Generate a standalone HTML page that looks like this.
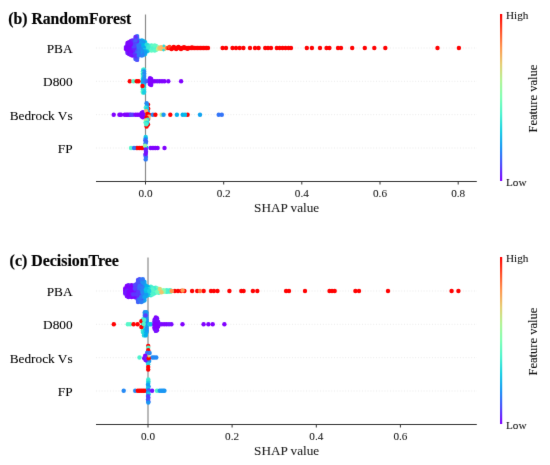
<!DOCTYPE html>
<html><head><meta charset="utf-8"><style>
html,body{margin:0;padding:0;background:#fff;width:550px;height:465px;overflow:hidden;}
svg{display:block;font-family:"Liberation Serif",serif;will-change:transform;}
text{stroke:#000;stroke-width:0.07px;}
</style></head><body>
<svg width="550" height="465" viewBox="0 0 550 465">
<defs><filter id="soft" color-interpolation-filters="sRGB" filterUnits="userSpaceOnUse" x="0" y="0" width="550" height="465"><feConvolveMatrix order="3" kernelMatrix="0.0052 0.0619 0.0052 0.0619 0.7316 0.0619 0.0052 0.0619 0.0052" divisor="1" edgeMode="duplicate" preserveAlpha="false"/></filter>
<linearGradient id="cb" x1="0" y1="1" x2="0" y2="0">
<stop offset="0.0" stop-color="#8000ff"/>
<stop offset="0.1" stop-color="#4c4ffc"/>
<stop offset="0.2" stop-color="#1996f3"/>
<stop offset="0.3" stop-color="#19cee3"/>
<stop offset="0.4" stop-color="#4df3ce"/>
<stop offset="0.5" stop-color="#80ffb4"/>
<stop offset="0.6" stop-color="#b2f396"/>
<stop offset="0.7" stop-color="#e5ce74"/>
<stop offset="0.8" stop-color="#ff964f"/>
<stop offset="0.9" stop-color="#ff4f28"/>
<stop offset="1.0" stop-color="#ff0000"/>
</linearGradient></defs>
<g filter="url(#soft)"><rect width="550" height="465" fill="#fff"/>
<line x1="96" y1="48.0" x2="477" y2="48.0" stroke="#e6e6e6" stroke-width="0.8" stroke-dasharray="1,1.8"/>
<line x1="96" y1="81.3" x2="477" y2="81.3" stroke="#e6e6e6" stroke-width="0.8" stroke-dasharray="1,1.8"/>
<line x1="96" y1="114.7" x2="477" y2="114.7" stroke="#e6e6e6" stroke-width="0.8" stroke-dasharray="1,1.8"/>
<line x1="96" y1="148.0" x2="477" y2="148.0" stroke="#e6e6e6" stroke-width="0.8" stroke-dasharray="1,1.8"/>
<line x1="145.5" y1="14.5" x2="145.5" y2="181.0" stroke="#8a8a8a" stroke-width="1.2"/>
<line x1="96" y1="291.0" x2="477" y2="291.0" stroke="#e6e6e6" stroke-width="0.8" stroke-dasharray="1,1.8"/>
<line x1="96" y1="324.3" x2="477" y2="324.3" stroke="#e6e6e6" stroke-width="0.8" stroke-dasharray="1,1.8"/>
<line x1="96" y1="357.7" x2="477" y2="357.7" stroke="#e6e6e6" stroke-width="0.8" stroke-dasharray="1,1.8"/>
<line x1="96" y1="391.0" x2="477" y2="391.0" stroke="#e6e6e6" stroke-width="0.8" stroke-dasharray="1,1.8"/>
<line x1="148.0" y1="257.5" x2="148.0" y2="424.0" stroke="#8a8a8a" stroke-width="1.2"/>
<g>
<circle cx="143.5" cy="49.7" r="2.2" fill="#02b6eb"/>
<circle cx="141.9" cy="48.9" r="2.2" fill="#1b94f3"/>
<circle cx="135.5" cy="38.6" r="2.2" fill="#445cfb"/>
<circle cx="137.1" cy="49.7" r="2.2" fill="#5345fd"/>
<circle cx="132.3" cy="42.1" r="2.2" fill="#7214ff"/>
<circle cx="149.9" cy="46.3" r="2.2" fill="#3ae8d6"/>
<circle cx="149.9" cy="49.7" r="2.2" fill="#3ae8d6"/>
<circle cx="133.9" cy="54.8" r="2.2" fill="#6924fe"/>
<circle cx="164.3" cy="48.9" r="2.2" fill="#ffb361"/>
<circle cx="141.9" cy="47.1" r="2.2" fill="#2c7df7"/>
<circle cx="138.7" cy="43.8" r="2.2" fill="#2e7af7"/>
<circle cx="132.3" cy="45.5" r="2.2" fill="#790aff"/>
<circle cx="143.5" cy="51.4" r="2.2" fill="#0ea5ef"/>
<circle cx="132.3" cy="54.0" r="2.2" fill="#7a08ff"/>
<circle cx="133.9" cy="51.4" r="2.2" fill="#5345fd"/>
<circle cx="149.9" cy="48.0" r="2.2" fill="#55f6ca"/>
<circle cx="156.3" cy="46.3" r="2.2" fill="#52f5cc"/>
<circle cx="146.7" cy="49.7" r="2.2" fill="#10c5e7"/>
<circle cx="145.1" cy="47.1" r="2.2" fill="#10c5e7"/>
<circle cx="146.7" cy="46.3" r="2.2" fill="#1cd1e2"/>
<circle cx="141.9" cy="43.8" r="2.2" fill="#2685f5"/>
<circle cx="135.5" cy="48.9" r="2.2" fill="#5443fd"/>
<circle cx="135.5" cy="43.8" r="2.2" fill="#5640fd"/>
<circle cx="137.1" cy="42.9" r="2.2" fill="#4c4ffc"/>
<circle cx="132.3" cy="55.6" r="2.2" fill="#8000ff"/>
<circle cx="161.1" cy="48.9" r="2.2" fill="#f0c56d"/>
<circle cx="130.7" cy="53.1" r="2.2" fill="#7118ff"/>
<circle cx="143.5" cy="48.0" r="2.2" fill="#03b1ed"/>
<circle cx="137.1" cy="59.9" r="2.2" fill="#5247fc"/>
<circle cx="148.3" cy="45.5" r="2.2" fill="#40ecd4"/>
<circle cx="137.1" cy="37.8" r="2.2" fill="#3b68f9"/>
<circle cx="138.7" cy="50.6" r="2.2" fill="#2d7cf7"/>
<circle cx="141.9" cy="45.5" r="2.2" fill="#1a95f3"/>
<circle cx="145.1" cy="48.9" r="2.2" fill="#1dd1e2"/>
<circle cx="137.1" cy="58.2" r="2.2" fill="#3a6af9"/>
<circle cx="132.3" cy="47.1" r="2.2" fill="#7511ff"/>
<circle cx="162.7" cy="48.0" r="2.2" fill="#f1c36c"/>
<circle cx="137.1" cy="56.5" r="2.2" fill="#5443fd"/>
<circle cx="129.1" cy="52.2" r="2.2" fill="#8000ff"/>
<circle cx="135.5" cy="42.1" r="2.2" fill="#504afc"/>
<circle cx="132.3" cy="43.8" r="2.2" fill="#8000ff"/>
<circle cx="146.7" cy="48.0" r="2.2" fill="#19cee3"/>
<circle cx="165.9" cy="48.0" r="2.2" fill="#f5bf68"/>
<circle cx="140.3" cy="46.3" r="2.2" fill="#179af2"/>
<circle cx="145.1" cy="43.8" r="2.2" fill="#06bbea"/>
<circle cx="135.5" cy="47.1" r="2.2" fill="#5f32fe"/>
<circle cx="125.9" cy="47.1" r="2.2" fill="#7019ff"/>
<circle cx="140.3" cy="41.2" r="2.2" fill="#3275f8"/>
<circle cx="129.1" cy="50.6" r="2.2" fill="#7a09ff"/>
<circle cx="151.5" cy="47.1" r="2.2" fill="#44eed2"/>
<circle cx="145.1" cy="42.1" r="2.2" fill="#0ec3e7"/>
<circle cx="129.1" cy="45.5" r="2.2" fill="#7e02ff"/>
<circle cx="135.5" cy="52.2" r="2.2" fill="#4e4cfc"/>
<circle cx="133.9" cy="41.2" r="2.2" fill="#6726fe"/>
<circle cx="156.3" cy="49.7" r="2.2" fill="#71febc"/>
<circle cx="130.7" cy="41.2" r="2.2" fill="#8000ff"/>
<circle cx="137.1" cy="48.0" r="2.2" fill="#4954fb"/>
<circle cx="143.5" cy="41.2" r="2.2" fill="#03b7eb"/>
<circle cx="137.1" cy="36.1" r="2.2" fill="#3571f8"/>
<circle cx="137.1" cy="39.5" r="2.2" fill="#5443fd"/>
<circle cx="138.7" cy="42.1" r="2.2" fill="#4d4efc"/>
<circle cx="138.7" cy="54.0" r="2.2" fill="#3078f7"/>
<circle cx="143.5" cy="42.9" r="2.2" fill="#218df4"/>
<circle cx="135.5" cy="37.0" r="2.2" fill="#632cfe"/>
<circle cx="127.5" cy="51.4" r="2.2" fill="#7314ff"/>
<circle cx="151.5" cy="45.5" r="2.2" fill="#52f5cc"/>
<circle cx="135.5" cy="50.6" r="2.2" fill="#5b38fd"/>
<circle cx="127.5" cy="44.6" r="2.2" fill="#7019ff"/>
<circle cx="156.3" cy="48.0" r="2.2" fill="#92fdaa"/>
<circle cx="132.3" cy="52.2" r="2.2" fill="#6b21fe"/>
<circle cx="130.7" cy="48.0" r="2.2" fill="#7f00ff"/>
<circle cx="133.9" cy="53.1" r="2.2" fill="#6628fe"/>
<circle cx="135.5" cy="45.5" r="2.2" fill="#4954fb"/>
<circle cx="125.9" cy="48.9" r="2.2" fill="#8000ff"/>
<circle cx="135.5" cy="59.1" r="2.2" fill="#445bfb"/>
<circle cx="141.9" cy="40.4" r="2.2" fill="#0aa9ee"/>
<circle cx="154.7" cy="48.9" r="2.2" fill="#56f7ca"/>
<circle cx="141.9" cy="52.2" r="2.2" fill="#11a0f0"/>
<circle cx="164.3" cy="47.1" r="2.2" fill="#f8bc67"/>
<circle cx="141.9" cy="42.1" r="2.2" fill="#1d91f3"/>
<circle cx="140.3" cy="49.7" r="2.2" fill="#3d66fa"/>
<circle cx="135.5" cy="57.4" r="2.2" fill="#5344fd"/>
<circle cx="127.5" cy="53.1" r="2.2" fill="#6a22fe"/>
<circle cx="132.3" cy="50.6" r="2.2" fill="#790bff"/>
<circle cx="132.3" cy="48.9" r="2.2" fill="#6f1aff"/>
<circle cx="145.1" cy="54.0" r="2.2" fill="#0ec3e7"/>
<circle cx="127.5" cy="49.7" r="2.2" fill="#8000ff"/>
<circle cx="130.7" cy="46.3" r="2.2" fill="#6924fe"/>
<circle cx="153.1" cy="46.3" r="2.2" fill="#6bfdbf"/>
<circle cx="135.5" cy="54.0" r="2.2" fill="#5443fd"/>
<circle cx="133.9" cy="44.6" r="2.2" fill="#7610ff"/>
<circle cx="145.1" cy="50.6" r="2.2" fill="#02b7eb"/>
<circle cx="153.1" cy="49.7" r="2.2" fill="#56f7ca"/>
<circle cx="140.3" cy="48.0" r="2.2" fill="#2981f6"/>
<circle cx="137.1" cy="54.8" r="2.2" fill="#504afc"/>
<circle cx="140.3" cy="44.6" r="2.2" fill="#1a95f3"/>
<circle cx="138.7" cy="48.9" r="2.2" fill="#238af5"/>
<circle cx="143.5" cy="54.8" r="2.2" fill="#169af2"/>
<circle cx="127.5" cy="46.3" r="2.2" fill="#8000ff"/>
<circle cx="140.3" cy="54.8" r="2.2" fill="#3472f8"/>
<circle cx="137.1" cy="53.1" r="2.2" fill="#4953fb"/>
<circle cx="145.1" cy="45.5" r="2.2" fill="#05afed"/>
<circle cx="132.3" cy="40.4" r="2.2" fill="#6726fe"/>
<circle cx="129.1" cy="54.0" r="2.2" fill="#7c06ff"/>
<circle cx="133.9" cy="42.9" r="2.2" fill="#583dfd"/>
<circle cx="161.1" cy="47.1" r="2.2" fill="#fcb864"/>
<circle cx="143.5" cy="46.3" r="2.2" fill="#10a1f0"/>
<circle cx="148.3" cy="50.6" r="2.2" fill="#28dbde"/>
<circle cx="140.3" cy="51.4" r="2.2" fill="#386df9"/>
<circle cx="129.1" cy="48.9" r="2.2" fill="#8000ff"/>
<circle cx="148.3" cy="48.9" r="2.2" fill="#3ae8d6"/>
<circle cx="133.9" cy="48.0" r="2.2" fill="#5f33fe"/>
<circle cx="143.5" cy="53.1" r="2.2" fill="#2784f6"/>
<circle cx="143.5" cy="44.6" r="2.2" fill="#01b3ec"/>
<circle cx="151.5" cy="50.6" r="2.2" fill="#62fbc4"/>
<circle cx="151.5" cy="48.9" r="2.2" fill="#5cf9c7"/>
<circle cx="146.7" cy="51.4" r="2.2" fill="#0abfe8"/>
<circle cx="145.1" cy="52.2" r="2.2" fill="#139df1"/>
<circle cx="130.7" cy="49.7" r="2.2" fill="#6f1aff"/>
<circle cx="157.9" cy="47.1" r="2.2" fill="#a0faa2"/>
<circle cx="137.1" cy="46.3" r="2.2" fill="#5a3bfd"/>
<circle cx="129.1" cy="42.1" r="2.2" fill="#8000ff"/>
<circle cx="133.9" cy="49.7" r="2.2" fill="#6a22fe"/>
<circle cx="141.9" cy="54.0" r="2.2" fill="#3077f7"/>
<circle cx="141.9" cy="50.6" r="2.2" fill="#208df4"/>
<circle cx="137.1" cy="44.6" r="2.2" fill="#4559fb"/>
<circle cx="129.1" cy="47.1" r="2.2" fill="#7d03ff"/>
<circle cx="133.9" cy="46.3" r="2.2" fill="#5246fd"/>
<circle cx="146.7" cy="44.6" r="2.2" fill="#2cdedc"/>
<circle cx="148.3" cy="47.1" r="2.2" fill="#3dead5"/>
<circle cx="140.3" cy="53.1" r="2.2" fill="#129ff1"/>
<circle cx="138.7" cy="40.4" r="2.2" fill="#2389f5"/>
<circle cx="127.5" cy="42.9" r="2.2" fill="#7e03ff"/>
<circle cx="154.7" cy="47.1" r="2.2" fill="#47f0d1"/>
<circle cx="130.7" cy="44.6" r="2.2" fill="#8000ff"/>
<circle cx="153.1" cy="48.0" r="2.2" fill="#51f5cc"/>
<circle cx="137.1" cy="51.4" r="2.2" fill="#455afb"/>
<circle cx="130.7" cy="42.9" r="2.2" fill="#7510ff"/>
<circle cx="141.9" cy="55.6" r="2.2" fill="#2883f6"/>
<circle cx="154.7" cy="50.6" r="2.2" fill="#5bf9c7"/>
<circle cx="127.5" cy="48.0" r="2.2" fill="#7e03ff"/>
<circle cx="135.5" cy="55.6" r="2.2" fill="#632cfe"/>
<circle cx="157.9" cy="48.9" r="2.2" fill="#bcee90"/>
<circle cx="130.7" cy="51.4" r="2.2" fill="#7a08ff"/>
<circle cx="154.7" cy="45.5" r="2.2" fill="#62fbc4"/>
<circle cx="130.7" cy="54.8" r="2.2" fill="#7511ff"/>
<circle cx="140.3" cy="42.9" r="2.2" fill="#159bf1"/>
<circle cx="137.1" cy="41.2" r="2.2" fill="#5f33fe"/>
<circle cx="138.7" cy="45.5" r="2.2" fill="#2f7af7"/>
<circle cx="159.5" cy="48.0" r="2.2" fill="#f4c06a"/>
<circle cx="138.7" cy="52.2" r="2.2" fill="#3078f7"/>
<circle cx="135.5" cy="40.4" r="2.2" fill="#4658fb"/>
<circle cx="138.7" cy="55.6" r="2.2" fill="#2f79f7"/>
<circle cx="129.1" cy="43.8" r="2.2" fill="#790bff"/>
<circle cx="138.7" cy="47.1" r="2.2" fill="#2d7cf7"/>
<circle cx="163.8" cy="45.9" r="1.3" fill="#29dbde"/>
<circle cx="163.5" cy="50.1" r="1.3" fill="#29dbde"/>
<circle cx="167.5" cy="48.0" r="2.2" fill="#ff4f28"/>
<circle cx="169.0" cy="48.0" r="2.2" fill="#ff0000"/>
<circle cx="170.5" cy="48.0" r="2.2" fill="#ff0000"/>
<circle cx="172.0" cy="48.0" r="2.2" fill="#ff0000"/>
<circle cx="173.5" cy="48.0" r="2.2" fill="#ff0000"/>
<circle cx="175.0" cy="48.0" r="2.2" fill="#ff0000"/>
<circle cx="176.5" cy="48.0" r="2.2" fill="#ff0000"/>
<circle cx="178.0" cy="48.0" r="2.2" fill="#ff0000"/>
<circle cx="179.5" cy="48.0" r="2.2" fill="#ff0000"/>
<circle cx="181.0" cy="48.0" r="2.2" fill="#ff0000"/>
<circle cx="182.5" cy="48.0" r="2.2" fill="#ff0000"/>
<circle cx="184.0" cy="48.0" r="2.2" fill="#ff0000"/>
<circle cx="185.5" cy="48.0" r="2.2" fill="#ff0000"/>
<circle cx="187.0" cy="48.0" r="2.2" fill="#ff0000"/>
<circle cx="188.5" cy="48.0" r="2.2" fill="#ff0000"/>
<circle cx="190.0" cy="48.0" r="2.2" fill="#ff0000"/>
<circle cx="191.5" cy="48.0" r="2.2" fill="#ff0000"/>
<circle cx="193.0" cy="48.0" r="2.2" fill="#ff0000"/>
<circle cx="194.5" cy="48.0" r="2.2" fill="#ff0000"/>
<circle cx="196.0" cy="48.0" r="2.2" fill="#ff0000"/>
<circle cx="197.5" cy="48.0" r="2.2" fill="#ff0000"/>
<circle cx="199.0" cy="48.0" r="2.2" fill="#ff0000"/>
<circle cx="200.5" cy="48.0" r="2.2" fill="#ff0000"/>
<circle cx="202.0" cy="48.0" r="2.2" fill="#ff0000"/>
<circle cx="203.5" cy="48.0" r="2.2" fill="#ff0000"/>
<circle cx="205.0" cy="48.0" r="2.2" fill="#ff0000"/>
<circle cx="206.5" cy="48.0" r="2.2" fill="#ff0000"/>
<circle cx="208.0" cy="48.0" r="2.2" fill="#ff0000"/>
<circle cx="169.5" cy="47.0" r="2.2" fill="#ff3f20"/>
<circle cx="171.5" cy="49.1" r="2.2" fill="#ff0000"/>
<circle cx="173.8" cy="47.0" r="2.2" fill="#ff0000"/>
<circle cx="176.2" cy="49.1" r="2.2" fill="#ff0000"/>
<circle cx="178.4" cy="46.9" r="2.2" fill="#ff0000"/>
<circle cx="181.0" cy="49.1" r="2.2" fill="#ff0000"/>
<circle cx="184.0" cy="47.1" r="2.2" fill="#ff0000"/>
<circle cx="187.5" cy="48.8" r="2.2" fill="#ff0000"/>
<circle cx="192.0" cy="47.4" r="2.2" fill="#ff0000"/>
<circle cx="222.6" cy="48.0" r="2.2" fill="#ff0000"/>
<circle cx="226.0" cy="48.0" r="2.2" fill="#ff0000"/>
<circle cx="232.5" cy="48.0" r="2.2" fill="#ff0000"/>
<circle cx="236.0" cy="48.0" r="2.2" fill="#ff0000"/>
<circle cx="239.7" cy="48.0" r="2.2" fill="#ff0000"/>
<circle cx="243.4" cy="48.0" r="2.2" fill="#ff0000"/>
<circle cx="250.0" cy="48.0" r="2.2" fill="#ff0000"/>
<circle cx="255.0" cy="48.0" r="2.2" fill="#ff0000"/>
<circle cx="258.6" cy="48.0" r="2.2" fill="#ff0000"/>
<circle cx="265.2" cy="48.0" r="2.2" fill="#ff0000"/>
<circle cx="268.0" cy="48.0" r="2.2" fill="#ff0000"/>
<circle cx="271.0" cy="48.0" r="2.2" fill="#ff0000"/>
<circle cx="276.8" cy="48.0" r="2.2" fill="#ff0000"/>
<circle cx="279.7" cy="48.0" r="2.2" fill="#ff0000"/>
<circle cx="282.6" cy="48.0" r="2.2" fill="#ff0000"/>
<circle cx="285.5" cy="48.0" r="2.2" fill="#ff0000"/>
<circle cx="288.5" cy="48.0" r="2.2" fill="#ff0000"/>
<circle cx="291.0" cy="48.0" r="2.2" fill="#ff0000"/>
<circle cx="306.8" cy="48.0" r="2.2" fill="#ff0000"/>
<circle cx="311.9" cy="48.0" r="2.2" fill="#ff0000"/>
<circle cx="320.0" cy="48.0" r="2.2" fill="#ff0000"/>
<circle cx="326.5" cy="48.0" r="2.2" fill="#ff0000"/>
<circle cx="329.4" cy="48.0" r="2.2" fill="#ff0000"/>
<circle cx="338.0" cy="48.0" r="2.2" fill="#ff0000"/>
<circle cx="341.0" cy="48.0" r="2.2" fill="#ff0000"/>
<circle cx="352.2" cy="48.0" r="2.2" fill="#ff0000"/>
<circle cx="364.8" cy="48.0" r="2.2" fill="#ff0000"/>
<circle cx="374.3" cy="48.0" r="2.2" fill="#ff0000"/>
<circle cx="385.3" cy="48.0" r="2.2" fill="#ff0000"/>
<circle cx="437.5" cy="48.0" r="2.2" fill="#ff0000"/>
<circle cx="458.9" cy="48.0" r="2.2" fill="#ff0000"/>
<circle cx="129.8" cy="81.3" r="2.2" fill="#ff0000"/>
<circle cx="133.5" cy="81.3" r="2.2" fill="#57f7c9"/>
<circle cx="136.7" cy="81.3" r="2.2" fill="#ff0000"/>
<circle cx="138.6" cy="81.3" r="2.2" fill="#ff0000"/>
<circle cx="143.2" cy="69.6" r="2.2" fill="#4df3ce"/>
<circle cx="144.0" cy="69.6" r="2.2" fill="#33e3d9"/>
<circle cx="142.9" cy="71.4" r="2.2" fill="#24d7df"/>
<circle cx="144.1" cy="71.4" r="2.2" fill="#2489f5"/>
<circle cx="142.9" cy="73.2" r="2.2" fill="#57f7c9"/>
<circle cx="144.1" cy="73.2" r="2.2" fill="#2489f5"/>
<circle cx="142.9" cy="75.0" r="2.2" fill="#24d7df"/>
<circle cx="144.1" cy="75.0" r="2.2" fill="#2489f5"/>
<circle cx="142.9" cy="76.8" r="2.2" fill="#57f7c9"/>
<circle cx="144.1" cy="76.8" r="2.2" fill="#2489f5"/>
<circle cx="142.9" cy="78.6" r="2.2" fill="#24d7df"/>
<circle cx="144.1" cy="78.6" r="2.2" fill="#2489f5"/>
<circle cx="142.9" cy="80.4" r="2.2" fill="#00b4ec"/>
<circle cx="144.1" cy="80.4" r="2.2" fill="#2489f5"/>
<circle cx="142.9" cy="82.2" r="2.2" fill="#00b4ec"/>
<circle cx="144.1" cy="82.2" r="2.2" fill="#2489f5"/>
<circle cx="142.9" cy="84.0" r="2.2" fill="#00b4ec"/>
<circle cx="144.1" cy="84.0" r="2.2" fill="#2489f5"/>
<circle cx="142.9" cy="85.8" r="2.2" fill="#29dbde"/>
<circle cx="144.0" cy="85.8" r="2.2" fill="#19cee3"/>
<circle cx="142.9" cy="87.6" r="2.2" fill="#57f7c9"/>
<circle cx="144.0" cy="87.6" r="2.2" fill="#19cee3"/>
<circle cx="142.9" cy="89.4" r="2.2" fill="#29dbde"/>
<circle cx="144.0" cy="89.4" r="2.2" fill="#42edd3"/>
<circle cx="142.9" cy="91.2" r="2.2" fill="#57f7c9"/>
<circle cx="144.0" cy="91.2" r="2.2" fill="#19cee3"/>
<circle cx="142.9" cy="92.6" r="2.2" fill="#57f7c9"/>
<circle cx="144.0" cy="92.6" r="2.2" fill="#19cee3"/>
<circle cx="142.5" cy="86.0" r="2.2" fill="#ff0000"/>
<circle cx="147.0" cy="81.2" r="2.2" fill="#425efa"/>
<circle cx="150.0" cy="82.8" r="2.2" fill="#8000ff"/>
<circle cx="150.0" cy="78.3" r="2.2" fill="#760eff"/>
<circle cx="150.0" cy="79.8" r="2.2" fill="#8000ff"/>
<circle cx="159.6" cy="81.3" r="2.2" fill="#7e02ff"/>
<circle cx="164.4" cy="81.3" r="2.2" fill="#8000ff"/>
<circle cx="150.0" cy="84.3" r="2.2" fill="#7d03ff"/>
<circle cx="151.2" cy="85.0" r="2.2" fill="#8000ff"/>
<circle cx="151.2" cy="79.0" r="2.2" fill="#8000ff"/>
<circle cx="157.2" cy="81.3" r="2.2" fill="#780dff"/>
<circle cx="151.2" cy="80.5" r="2.2" fill="#8000ff"/>
<circle cx="151.2" cy="82.0" r="2.2" fill="#7510ff"/>
<circle cx="150.0" cy="81.3" r="2.2" fill="#7b08ff"/>
<circle cx="162.0" cy="81.3" r="2.2" fill="#8000ff"/>
<circle cx="152.4" cy="81.3" r="2.2" fill="#8000ff"/>
<circle cx="151.2" cy="83.5" r="2.2" fill="#7f01ff"/>
<circle cx="154.8" cy="81.3" r="2.2" fill="#8000ff"/>
<circle cx="168.3" cy="81.3" r="2.2" fill="#8000ff"/>
<circle cx="181.1" cy="81.3" r="2.2" fill="#8000ff"/>
<circle cx="113.7" cy="114.7" r="2.2" fill="#8000ff"/>
<circle cx="119.4" cy="114.7" r="2.2" fill="#8000ff"/>
<circle cx="121.0" cy="114.7" r="2.2" fill="#8000ff"/>
<circle cx="124.7" cy="114.7" r="2.2" fill="#8000ff"/>
<circle cx="126.5" cy="114.7" r="2.2" fill="#8000ff"/>
<circle cx="128.0" cy="114.7" r="2.2" fill="#8000ff"/>
<circle cx="129.8" cy="114.7" r="2.2" fill="#8000ff"/>
<circle cx="131.0" cy="114.7" r="2.2" fill="#573ffd"/>
<circle cx="133.0" cy="114.7" r="2.2" fill="#573ffd"/>
<circle cx="135.5" cy="114.7" r="2.2" fill="#8000ff"/>
<circle cx="137.5" cy="114.7" r="2.2" fill="#8000ff"/>
<circle cx="139.5" cy="114.7" r="2.2" fill="#8000ff"/>
<circle cx="141.7" cy="113.0" r="2.2" fill="#7f01ff"/>
<circle cx="142.9" cy="112.1" r="2.2" fill="#790bff"/>
<circle cx="141.7" cy="116.4" r="2.2" fill="#8000ff"/>
<circle cx="142.9" cy="113.8" r="2.2" fill="#8000ff"/>
<circle cx="142.9" cy="117.2" r="2.2" fill="#8000ff"/>
<circle cx="141.7" cy="114.7" r="2.2" fill="#7d03ff"/>
<circle cx="142.9" cy="115.5" r="2.2" fill="#8000ff"/>
<circle cx="148.0" cy="104.6" r="2.2" fill="#ff0000"/>
<circle cx="148.2" cy="108.8" r="2.2" fill="#ff0000"/>
<circle cx="148.2" cy="119.0" r="2.2" fill="#ff0000"/>
<circle cx="148.0" cy="124.4" r="2.2" fill="#ff0000"/>
<circle cx="146.6" cy="126.6" r="2.2" fill="#ff0000"/>
<circle cx="146.6" cy="103.2" r="2.2" fill="#2489f5"/>
<circle cx="147.0" cy="105.6" r="2.2" fill="#1996f3"/>
<circle cx="145.8" cy="107.8" r="2.2" fill="#42edd3"/>
<circle cx="147.0" cy="108.8" r="2.2" fill="#19cee3"/>
<circle cx="147.8" cy="111.6" r="2.2" fill="#1996f3"/>
<circle cx="146.2" cy="111.1" r="2.2" fill="#ffb462"/>
<circle cx="147.4" cy="113.9" r="2.2" fill="#ff0000"/>
<circle cx="149.0" cy="114.6" r="2.2" fill="#ff0000"/>
<circle cx="148.8" cy="116.6" r="2.2" fill="#f0c46d"/>
<circle cx="146.6" cy="117.4" r="2.2" fill="#ff0000"/>
<circle cx="147.6" cy="119.8" r="2.2" fill="#33e3d9"/>
<circle cx="145.9" cy="120.4" r="2.2" fill="#b2f396"/>
<circle cx="145.6" cy="122.6" r="2.2" fill="#4df3ce"/>
<circle cx="147.2" cy="122.8" r="2.2" fill="#24d7df"/>
<circle cx="146.2" cy="124.2" r="2.2" fill="#4df3ce"/>
<circle cx="152.8" cy="114.7" r="2.2" fill="#2489f5"/>
<circle cx="155.4" cy="114.7" r="2.2" fill="#ff0000"/>
<circle cx="161.6" cy="114.7" r="2.2" fill="#b2f396"/>
<circle cx="163.6" cy="114.7" r="2.2" fill="#1996f3"/>
<circle cx="170.3" cy="114.7" r="2.2" fill="#ff0000"/>
<circle cx="176.9" cy="114.7" r="2.2" fill="#05afed"/>
<circle cx="187.6" cy="114.7" r="2.2" fill="#ff0000"/>
<circle cx="182.7" cy="114.7" r="2.2" fill="#05afed"/>
<circle cx="185.0" cy="114.7" r="2.2" fill="#05baea"/>
<circle cx="200.0" cy="114.7" r="2.2" fill="#0fa3f0"/>
<circle cx="218.7" cy="114.7" r="2.2" fill="#3374f8"/>
<circle cx="221.8" cy="114.7" r="2.2" fill="#3374f8"/>
<circle cx="136.4" cy="148.0" r="2.2" fill="#c02850"/>
<circle cx="131.0" cy="148.0" r="2.2" fill="#57f7c9"/>
<circle cx="134.0" cy="148.0" r="2.2" fill="#3374f8"/>
<circle cx="137.9" cy="148.0" r="2.2" fill="#ff0000"/>
<circle cx="139.6" cy="148.0" r="2.2" fill="#ff0000"/>
<circle cx="141.2" cy="148.0" r="2.2" fill="#ff0000"/>
<circle cx="142.8" cy="148.0" r="2.2" fill="#ff0000"/>
<circle cx="150.5" cy="148.0" r="2.2" fill="#8000ff"/>
<circle cx="152.2" cy="148.0" r="2.2" fill="#8000ff"/>
<circle cx="153.9" cy="148.0" r="2.2" fill="#8000ff"/>
<circle cx="155.6" cy="148.0" r="2.2" fill="#8000ff"/>
<circle cx="157.6" cy="148.0" r="2.2" fill="#8000ff"/>
<circle cx="164.5" cy="148.0" r="2.2" fill="#8000ff"/>
<circle cx="145.7" cy="137.0" r="2.2" fill="#19cee3"/>
<circle cx="145.7" cy="138.6" r="2.2" fill="#0fa3f0"/>
<circle cx="145.3" cy="140.2" r="2.2" fill="#386df9"/>
<circle cx="146.1" cy="141.8" r="2.2" fill="#425efa"/>
<circle cx="145.5" cy="143.4" r="2.2" fill="#3374f8"/>
<circle cx="146.2" cy="147.6" r="2.2" fill="#00b4ec"/>
<circle cx="145.0" cy="145.8" r="2.2" fill="#99fca6"/>
<circle cx="145.3" cy="155.0" r="2.2" fill="#4c4ffc"/>
<circle cx="145.9" cy="157.0" r="2.2" fill="#3d65fa"/>
<circle cx="145.7" cy="159.4" r="2.2" fill="#2e7bf7"/>
<circle cx="145.7" cy="149.5" r="2.2" fill="#7510ff"/>
<circle cx="146.0" cy="151.8" r="2.2" fill="#6b20fe"/>
<circle cx="145.8" cy="153.8" r="2.2" fill="#7510ff"/>
<circle cx="128.4" cy="286.8" r="2.2" fill="#8000ff"/>
<circle cx="155.6" cy="289.3" r="2.2" fill="#40ecd4"/>
<circle cx="149.2" cy="294.4" r="2.2" fill="#39e7d7"/>
<circle cx="138.0" cy="297.0" r="2.2" fill="#4559fb"/>
<circle cx="136.4" cy="291.0" r="2.2" fill="#6726fe"/>
<circle cx="139.6" cy="301.2" r="2.2" fill="#5148fc"/>
<circle cx="141.2" cy="283.4" r="2.2" fill="#4855fb"/>
<circle cx="152.4" cy="292.7" r="2.2" fill="#48f0d0"/>
<circle cx="155.6" cy="287.6" r="2.2" fill="#4ef3ce"/>
<circle cx="141.2" cy="281.7" r="2.2" fill="#1f8ff4"/>
<circle cx="136.4" cy="296.1" r="2.2" fill="#445cfb"/>
<circle cx="144.4" cy="285.1" r="2.2" fill="#2c7ef7"/>
<circle cx="165.2" cy="291.0" r="2.2" fill="#59f8c9"/>
<circle cx="133.2" cy="291.0" r="2.2" fill="#6e1cff"/>
<circle cx="142.8" cy="284.2" r="2.2" fill="#376ff9"/>
<circle cx="150.8" cy="288.5" r="2.2" fill="#2edfdc"/>
<circle cx="130.0" cy="294.4" r="2.2" fill="#7412ff"/>
<circle cx="141.2" cy="290.2" r="2.2" fill="#2d7cf7"/>
<circle cx="141.2" cy="293.6" r="2.2" fill="#376ef9"/>
<circle cx="142.8" cy="285.9" r="2.2" fill="#2d7df7"/>
<circle cx="130.0" cy="292.7" r="2.2" fill="#8000ff"/>
<circle cx="152.4" cy="291.0" r="2.2" fill="#55f6cb"/>
<circle cx="155.6" cy="292.7" r="2.2" fill="#5bf8c8"/>
<circle cx="131.6" cy="297.0" r="2.2" fill="#8000ff"/>
<circle cx="142.8" cy="289.3" r="2.2" fill="#2a80f6"/>
<circle cx="138.0" cy="286.8" r="2.2" fill="#3e63fa"/>
<circle cx="133.2" cy="285.9" r="2.2" fill="#6b20ff"/>
<circle cx="126.8" cy="289.3" r="2.2" fill="#8000ff"/>
<circle cx="138.0" cy="300.4" r="2.2" fill="#425efa"/>
<circle cx="139.6" cy="297.8" r="2.2" fill="#4a52fc"/>
<circle cx="130.0" cy="285.9" r="2.2" fill="#6a22fe"/>
<circle cx="142.8" cy="299.5" r="2.2" fill="#3276f8"/>
<circle cx="139.6" cy="284.2" r="2.2" fill="#3a6af9"/>
<circle cx="152.4" cy="287.6" r="2.2" fill="#4ff4cd"/>
<circle cx="150.8" cy="286.8" r="2.2" fill="#46efd1"/>
<circle cx="144.4" cy="291.9" r="2.2" fill="#1a96f3"/>
<circle cx="134.8" cy="286.8" r="2.2" fill="#5247fc"/>
<circle cx="160.4" cy="290.2" r="2.2" fill="#c3e98b"/>
<circle cx="146.0" cy="296.1" r="2.2" fill="#06aeed"/>
<circle cx="142.8" cy="294.4" r="2.2" fill="#2587f5"/>
<circle cx="131.6" cy="295.2" r="2.2" fill="#8000ff"/>
<circle cx="139.6" cy="279.1" r="2.2" fill="#504afc"/>
<circle cx="128.4" cy="293.6" r="2.2" fill="#6b20fe"/>
<circle cx="170.0" cy="291.9" r="2.2" fill="#6bfdbf"/>
<circle cx="141.2" cy="291.9" r="2.2" fill="#3b68f9"/>
<circle cx="136.4" cy="297.8" r="2.2" fill="#583efd"/>
<circle cx="139.6" cy="280.8" r="2.2" fill="#3374f8"/>
<circle cx="168.4" cy="291.0" r="2.2" fill="#44eed2"/>
<circle cx="131.6" cy="285.1" r="2.2" fill="#7d03ff"/>
<circle cx="149.2" cy="287.6" r="2.2" fill="#36e6d8"/>
<circle cx="146.0" cy="287.6" r="2.2" fill="#09bee9"/>
<circle cx="141.2" cy="295.2" r="2.2" fill="#2489f5"/>
<circle cx="138.0" cy="280.0" r="2.2" fill="#4d4dfc"/>
<circle cx="144.4" cy="300.4" r="2.2" fill="#0ca6ef"/>
<circle cx="139.6" cy="294.4" r="2.2" fill="#2784f6"/>
<circle cx="139.6" cy="292.7" r="2.2" fill="#4c50fc"/>
<circle cx="128.4" cy="285.1" r="2.2" fill="#6c1fff"/>
<circle cx="130.0" cy="287.6" r="2.2" fill="#7c05ff"/>
<circle cx="146.0" cy="292.7" r="2.2" fill="#05baea"/>
<circle cx="144.4" cy="298.7" r="2.2" fill="#10a2f0"/>
<circle cx="166.8" cy="291.9" r="2.2" fill="#49f1d0"/>
<circle cx="158.8" cy="292.7" r="2.2" fill="#5bf9c7"/>
<circle cx="136.4" cy="285.9" r="2.2" fill="#6824fe"/>
<circle cx="133.2" cy="289.3" r="2.2" fill="#770dff"/>
<circle cx="139.6" cy="282.5" r="2.2" fill="#2981f6"/>
<circle cx="142.8" cy="291.0" r="2.2" fill="#3571f8"/>
<circle cx="141.2" cy="286.8" r="2.2" fill="#3f63fa"/>
<circle cx="126.8" cy="292.7" r="2.2" fill="#6f19ff"/>
<circle cx="155.6" cy="291.0" r="2.2" fill="#54f6cb"/>
<circle cx="136.4" cy="289.3" r="2.2" fill="#6a21fe"/>
<circle cx="142.8" cy="297.8" r="2.2" fill="#386df9"/>
<circle cx="139.6" cy="296.1" r="2.2" fill="#504afc"/>
<circle cx="136.4" cy="287.6" r="2.2" fill="#5641fd"/>
<circle cx="136.4" cy="284.2" r="2.2" fill="#5a3bfd"/>
<circle cx="133.2" cy="292.7" r="2.2" fill="#5c38fd"/>
<circle cx="150.8" cy="295.2" r="2.2" fill="#38e6d8"/>
<circle cx="158.8" cy="289.3" r="2.2" fill="#a4f89f"/>
<circle cx="134.8" cy="293.6" r="2.2" fill="#5247fc"/>
<circle cx="147.6" cy="295.2" r="2.2" fill="#05baea"/>
<circle cx="128.4" cy="297.0" r="2.2" fill="#770dff"/>
<circle cx="138.0" cy="285.1" r="2.2" fill="#5345fd"/>
<circle cx="125.2" cy="290.2" r="2.2" fill="#8000ff"/>
<circle cx="142.8" cy="280.8" r="2.2" fill="#2587f5"/>
<circle cx="150.8" cy="293.6" r="2.2" fill="#4cf2ce"/>
<circle cx="157.2" cy="288.5" r="2.2" fill="#6ffebd"/>
<circle cx="133.2" cy="287.6" r="2.2" fill="#7c05ff"/>
<circle cx="139.6" cy="291.0" r="2.2" fill="#3078f7"/>
<circle cx="131.6" cy="288.5" r="2.2" fill="#8000ff"/>
<circle cx="141.2" cy="300.4" r="2.2" fill="#3276f8"/>
<circle cx="125.2" cy="288.5" r="2.2" fill="#8000ff"/>
<circle cx="160.4" cy="291.9" r="2.2" fill="#aff498"/>
<circle cx="138.0" cy="290.2" r="2.2" fill="#5a3afd"/>
<circle cx="128.4" cy="290.2" r="2.2" fill="#8000ff"/>
<circle cx="154.0" cy="290.2" r="2.2" fill="#51f4cc"/>
<circle cx="144.4" cy="290.2" r="2.2" fill="#2a80f6"/>
<circle cx="166.8" cy="290.2" r="2.2" fill="#4df3ce"/>
<circle cx="144.4" cy="286.8" r="2.2" fill="#1f8ef4"/>
<circle cx="157.2" cy="290.2" r="2.2" fill="#51f5cc"/>
<circle cx="147.6" cy="286.8" r="2.2" fill="#07bce9"/>
<circle cx="178.0" cy="291.0" r="2.2" fill="#ff0000"/>
<circle cx="130.0" cy="296.1" r="2.2" fill="#780cff"/>
<circle cx="144.4" cy="288.5" r="2.2" fill="#08acee"/>
<circle cx="131.6" cy="293.6" r="2.2" fill="#7511ff"/>
<circle cx="142.8" cy="296.1" r="2.2" fill="#1a95f3"/>
<circle cx="170.0" cy="290.2" r="2.2" fill="#47f0d1"/>
<circle cx="147.6" cy="288.5" r="2.2" fill="#03b1ec"/>
<circle cx="138.0" cy="298.7" r="2.2" fill="#4b50fc"/>
<circle cx="138.0" cy="293.6" r="2.2" fill="#3f62fa"/>
<circle cx="138.0" cy="288.5" r="2.2" fill="#4954fb"/>
<circle cx="126.8" cy="287.6" r="2.2" fill="#8000ff"/>
<circle cx="150.8" cy="290.2" r="2.2" fill="#37e6d8"/>
<circle cx="130.0" cy="291.0" r="2.2" fill="#8000ff"/>
<circle cx="126.8" cy="296.1" r="2.2" fill="#770dff"/>
<circle cx="134.8" cy="291.9" r="2.2" fill="#7214ff"/>
<circle cx="138.0" cy="283.4" r="2.2" fill="#5246fd"/>
<circle cx="138.0" cy="295.2" r="2.2" fill="#612ffe"/>
<circle cx="163.6" cy="290.2" r="2.2" fill="#88ffb0"/>
<circle cx="154.0" cy="291.9" r="2.2" fill="#60fac5"/>
<circle cx="154.0" cy="293.6" r="2.2" fill="#48f0d0"/>
<circle cx="141.2" cy="285.1" r="2.2" fill="#435efb"/>
<circle cx="157.2" cy="291.9" r="2.2" fill="#6efebe"/>
<circle cx="128.4" cy="288.5" r="2.2" fill="#7313ff"/>
<circle cx="142.8" cy="301.2" r="2.2" fill="#1c93f3"/>
<circle cx="152.4" cy="294.4" r="2.2" fill="#4ff4cd"/>
<circle cx="146.0" cy="285.9" r="2.2" fill="#03b7eb"/>
<circle cx="131.6" cy="291.9" r="2.2" fill="#6d1dff"/>
<circle cx="144.4" cy="281.7" r="2.2" fill="#0ea5ef"/>
<circle cx="154.0" cy="288.5" r="2.2" fill="#40ecd4"/>
<circle cx="149.2" cy="292.7" r="2.2" fill="#0cc1e8"/>
<circle cx="150.8" cy="291.9" r="2.2" fill="#49f1d0"/>
<circle cx="149.2" cy="289.3" r="2.2" fill="#28dbde"/>
<circle cx="162.0" cy="291.0" r="2.2" fill="#8dfead"/>
<circle cx="136.4" cy="292.7" r="2.2" fill="#632cfe"/>
<circle cx="126.8" cy="294.4" r="2.2" fill="#8000ff"/>
<circle cx="174.8" cy="291.0" r="2.2" fill="#ff0000"/>
<circle cx="139.6" cy="289.3" r="2.2" fill="#3670f8"/>
<circle cx="141.2" cy="288.5" r="2.2" fill="#2488f5"/>
<circle cx="144.4" cy="293.6" r="2.2" fill="#10a2f0"/>
<circle cx="131.6" cy="286.8" r="2.2" fill="#8000ff"/>
<circle cx="134.8" cy="297.0" r="2.2" fill="#760fff"/>
<circle cx="147.6" cy="290.2" r="2.2" fill="#0cc1e8"/>
<circle cx="134.8" cy="290.2" r="2.2" fill="#7215ff"/>
<circle cx="141.2" cy="280.0" r="2.2" fill="#2e7bf7"/>
<circle cx="141.2" cy="298.7" r="2.2" fill="#4954fb"/>
<circle cx="144.4" cy="283.4" r="2.2" fill="#0ea4f0"/>
<circle cx="134.8" cy="295.2" r="2.2" fill="#790aff"/>
<circle cx="147.6" cy="291.9" r="2.2" fill="#15cae5"/>
<circle cx="144.4" cy="295.2" r="2.2" fill="#2a80f6"/>
<circle cx="125.2" cy="291.9" r="2.2" fill="#8000ff"/>
<circle cx="184.4" cy="291.0" r="2.2" fill="#ff0000"/>
<circle cx="152.4" cy="289.3" r="2.2" fill="#53f5cb"/>
<circle cx="138.0" cy="281.7" r="2.2" fill="#4855fb"/>
<circle cx="125.2" cy="293.6" r="2.2" fill="#7116ff"/>
<circle cx="131.6" cy="290.2" r="2.2" fill="#8000ff"/>
<circle cx="133.2" cy="296.1" r="2.2" fill="#7e02ff"/>
<circle cx="130.0" cy="289.3" r="2.2" fill="#7b06ff"/>
<circle cx="171.6" cy="291.0" r="2.2" fill="#67fcc2"/>
<circle cx="158.8" cy="291.0" r="2.2" fill="#74febb"/>
<circle cx="126.8" cy="285.9" r="2.2" fill="#8000ff"/>
<circle cx="138.0" cy="302.1" r="2.2" fill="#4062fa"/>
<circle cx="126.8" cy="291.0" r="2.2" fill="#6b20ff"/>
<circle cx="142.8" cy="292.7" r="2.2" fill="#2686f5"/>
<circle cx="128.4" cy="291.9" r="2.2" fill="#8000ff"/>
<circle cx="141.2" cy="302.1" r="2.2" fill="#2b7ff6"/>
<circle cx="163.6" cy="291.9" r="2.2" fill="#86ffb1"/>
<circle cx="139.6" cy="299.5" r="2.2" fill="#3373f8"/>
<circle cx="142.8" cy="282.5" r="2.2" fill="#1e90f4"/>
<circle cx="139.6" cy="287.6" r="2.2" fill="#3b69f9"/>
<circle cx="147.6" cy="293.6" r="2.2" fill="#0fc4e7"/>
<circle cx="142.8" cy="279.1" r="2.2" fill="#3078f7"/>
<circle cx="146.0" cy="294.4" r="2.2" fill="#159cf1"/>
<circle cx="138.0" cy="291.9" r="2.2" fill="#5a3afd"/>
<circle cx="134.8" cy="285.1" r="2.2" fill="#5247fd"/>
<circle cx="134.8" cy="288.5" r="2.2" fill="#5443fd"/>
<circle cx="141.2" cy="297.0" r="2.2" fill="#3177f8"/>
<circle cx="128.4" cy="295.2" r="2.2" fill="#8000ff"/>
<circle cx="146.0" cy="291.0" r="2.2" fill="#07bce9"/>
<circle cx="144.4" cy="297.0" r="2.2" fill="#0ea4f0"/>
<circle cx="139.6" cy="285.9" r="2.2" fill="#3670f8"/>
<circle cx="136.4" cy="294.4" r="2.2" fill="#5a3afd"/>
<circle cx="181.2" cy="291.0" r="2.2" fill="#ff0000"/>
<circle cx="142.8" cy="287.6" r="2.2" fill="#2e7bf7"/>
<circle cx="146.0" cy="289.3" r="2.2" fill="#0bc0e8"/>
<circle cx="133.2" cy="294.4" r="2.2" fill="#5e35fe"/>
<circle cx="149.2" cy="291.0" r="2.2" fill="#1bd0e2"/>
<circle cx="159.8" cy="289.0" r="2.2" fill="#dbd77b"/>
<circle cx="161.5" cy="292.3" r="2.2" fill="#f0c46d"/>
<circle cx="171.7" cy="291.0" r="2.2" fill="#ff964f"/>
<circle cx="182.6" cy="290.5" r="2.2" fill="#ff964f"/>
<circle cx="192.1" cy="291.0" r="2.2" fill="#ff0000"/>
<circle cx="197.2" cy="291.0" r="2.2" fill="#ff0000"/>
<circle cx="203.7" cy="291.0" r="2.2" fill="#ff0000"/>
<circle cx="211.0" cy="291.0" r="2.2" fill="#ff0000"/>
<circle cx="213.9" cy="291.0" r="2.2" fill="#ff0000"/>
<circle cx="217.5" cy="291.0" r="2.2" fill="#ff0000"/>
<circle cx="229.4" cy="291.0" r="2.2" fill="#ff0000"/>
<circle cx="241.3" cy="291.0" r="2.2" fill="#ff0000"/>
<circle cx="243.6" cy="291.0" r="2.2" fill="#ff0000"/>
<circle cx="252.9" cy="291.0" r="2.2" fill="#ff0000"/>
<circle cx="257.3" cy="291.0" r="2.2" fill="#ff0000"/>
<circle cx="286.1" cy="291.0" r="2.2" fill="#ff0000"/>
<circle cx="289.0" cy="291.0" r="2.2" fill="#ff0000"/>
<circle cx="305.0" cy="291.0" r="2.2" fill="#ff0000"/>
<circle cx="329.5" cy="291.0" r="2.2" fill="#ff0000"/>
<circle cx="332.0" cy="291.0" r="2.2" fill="#ff0000"/>
<circle cx="334.7" cy="291.0" r="2.2" fill="#ff0000"/>
<circle cx="355.4" cy="291.0" r="2.2" fill="#ff0000"/>
<circle cx="359.0" cy="291.0" r="2.2" fill="#ff0000"/>
<circle cx="388.0" cy="291.0" r="2.2" fill="#ff0000"/>
<circle cx="451.6" cy="291.0" r="2.2" fill="#ff0000"/>
<circle cx="458.4" cy="291.0" r="2.2" fill="#ff0000"/>
<circle cx="200.0" cy="291.0" r="2.2" fill="#ff743c"/>
<circle cx="113.8" cy="324.2" r="2.2" fill="#ff0000"/>
<circle cx="127.8" cy="324.2" r="2.2" fill="#57f7c9"/>
<circle cx="130.2" cy="324.2" r="2.2" fill="#57f7c9"/>
<circle cx="133.6" cy="324.2" r="2.2" fill="#ff0000"/>
<circle cx="137.6" cy="324.2" r="2.2" fill="#ff0000"/>
<circle cx="144.8" cy="312.2" r="2.2" fill="#2489f5"/>
<circle cx="146.4" cy="312.2" r="2.2" fill="#1996f3"/>
<circle cx="144.8" cy="314.0" r="2.2" fill="#2489f5"/>
<circle cx="146.4" cy="314.0" r="2.2" fill="#1996f3"/>
<circle cx="144.8" cy="315.8" r="2.2" fill="#2489f5"/>
<circle cx="146.4" cy="315.8" r="2.2" fill="#1996f3"/>
<circle cx="144.8" cy="317.6" r="2.2" fill="#2489f5"/>
<circle cx="146.4" cy="317.6" r="2.2" fill="#1996f3"/>
<circle cx="142.9" cy="319.4" r="2.2" fill="#57f7c9"/>
<circle cx="144.9" cy="319.4" r="2.2" fill="#0fc4e7"/>
<circle cx="146.6" cy="319.4" r="2.2" fill="#1996f3"/>
<circle cx="142.9" cy="321.2" r="2.2" fill="#38e7d7"/>
<circle cx="144.9" cy="321.2" r="2.2" fill="#0fc4e7"/>
<circle cx="146.6" cy="321.2" r="2.2" fill="#1996f3"/>
<circle cx="142.9" cy="323.0" r="2.2" fill="#57f7c9"/>
<circle cx="144.9" cy="323.0" r="2.2" fill="#42edd3"/>
<circle cx="146.6" cy="323.0" r="2.2" fill="#1996f3"/>
<circle cx="142.9" cy="324.8" r="2.2" fill="#38e7d7"/>
<circle cx="144.9" cy="324.8" r="2.2" fill="#0fc4e7"/>
<circle cx="146.6" cy="324.8" r="2.2" fill="#1996f3"/>
<circle cx="142.9" cy="326.6" r="2.2" fill="#57f7c9"/>
<circle cx="144.9" cy="326.6" r="2.2" fill="#0fc4e7"/>
<circle cx="146.6" cy="326.6" r="2.2" fill="#1996f3"/>
<circle cx="142.9" cy="328.4" r="2.2" fill="#38e7d7"/>
<circle cx="144.9" cy="328.4" r="2.2" fill="#42edd3"/>
<circle cx="146.6" cy="328.4" r="2.2" fill="#1996f3"/>
<circle cx="142.9" cy="330.2" r="2.2" fill="#57f7c9"/>
<circle cx="144.9" cy="330.2" r="2.2" fill="#0fc4e7"/>
<circle cx="146.6" cy="330.2" r="2.2" fill="#1996f3"/>
<circle cx="142.9" cy="332.0" r="2.2" fill="#38e7d7"/>
<circle cx="144.9" cy="332.0" r="2.2" fill="#0fc4e7"/>
<circle cx="146.6" cy="332.0" r="2.2" fill="#1996f3"/>
<circle cx="144.0" cy="333.8" r="2.2" fill="#24d7df"/>
<circle cx="145.8" cy="333.8" r="2.2" fill="#05afed"/>
<circle cx="144.0" cy="335.4" r="2.2" fill="#24d7df"/>
<circle cx="145.8" cy="335.4" r="2.2" fill="#05afed"/>
<circle cx="145.6" cy="315.4" r="2.2" fill="#573ffd"/>
<circle cx="141.4" cy="321.2" r="2.2" fill="#ff0000"/>
<circle cx="141.4" cy="327.0" r="2.2" fill="#ff0000"/>
<circle cx="143.7" cy="324.0" r="2.2" fill="#57f7c9"/>
<circle cx="144.2" cy="320.0" r="2.2" fill="#4df3ce"/>
<circle cx="149.5" cy="324.2" r="2.2" fill="#19cee3"/>
<circle cx="151.0" cy="324.2" r="2.2" fill="#0fc4e7"/>
<circle cx="158.2" cy="324.9" r="2.2" fill="#8000ff"/>
<circle cx="155.8" cy="324.9" r="2.2" fill="#8000ff"/>
<circle cx="155.8" cy="317.4" r="2.2" fill="#7e02ff"/>
<circle cx="157.0" cy="322.7" r="2.2" fill="#8000ff"/>
<circle cx="157.0" cy="321.2" r="2.2" fill="#760fff"/>
<circle cx="154.6" cy="319.7" r="2.2" fill="#7b08ff"/>
<circle cx="158.2" cy="323.4" r="2.2" fill="#8000ff"/>
<circle cx="158.2" cy="321.9" r="2.2" fill="#8000ff"/>
<circle cx="171.4" cy="324.2" r="2.2" fill="#7a08ff"/>
<circle cx="157.0" cy="324.2" r="2.2" fill="#8000ff"/>
<circle cx="166.6" cy="324.2" r="2.2" fill="#8000ff"/>
<circle cx="155.8" cy="318.9" r="2.2" fill="#8000ff"/>
<circle cx="157.0" cy="318.2" r="2.2" fill="#7c06ff"/>
<circle cx="155.8" cy="329.4" r="2.2" fill="#780cff"/>
<circle cx="154.6" cy="327.2" r="2.2" fill="#8000ff"/>
<circle cx="154.6" cy="325.7" r="2.2" fill="#7c05ff"/>
<circle cx="157.0" cy="330.2" r="2.2" fill="#8000ff"/>
<circle cx="161.8" cy="324.2" r="2.2" fill="#7a09ff"/>
<circle cx="155.8" cy="321.9" r="2.2" fill="#8000ff"/>
<circle cx="154.6" cy="328.7" r="2.2" fill="#8000ff"/>
<circle cx="154.6" cy="322.7" r="2.2" fill="#770eff"/>
<circle cx="155.8" cy="326.4" r="2.2" fill="#780cff"/>
<circle cx="154.6" cy="321.2" r="2.2" fill="#760eff"/>
<circle cx="155.8" cy="320.4" r="2.2" fill="#770dff"/>
<circle cx="155.8" cy="323.4" r="2.2" fill="#8000ff"/>
<circle cx="159.4" cy="324.2" r="2.2" fill="#780bff"/>
<circle cx="157.0" cy="327.2" r="2.2" fill="#7d03ff"/>
<circle cx="157.0" cy="319.7" r="2.2" fill="#770eff"/>
<circle cx="154.6" cy="324.2" r="2.2" fill="#8000ff"/>
<circle cx="155.8" cy="327.9" r="2.2" fill="#8000ff"/>
<circle cx="157.0" cy="328.7" r="2.2" fill="#7c06ff"/>
<circle cx="155.8" cy="330.9" r="2.2" fill="#760fff"/>
<circle cx="169.0" cy="324.2" r="2.2" fill="#760fff"/>
<circle cx="164.2" cy="324.2" r="2.2" fill="#7e03ff"/>
<circle cx="157.0" cy="325.7" r="2.2" fill="#8000ff"/>
<circle cx="158.2" cy="326.4" r="2.2" fill="#8000ff"/>
<circle cx="182.5" cy="324.2" r="2.2" fill="#8000ff"/>
<circle cx="203.6" cy="324.2" r="2.2" fill="#8000ff"/>
<circle cx="208.4" cy="324.2" r="2.2" fill="#8000ff"/>
<circle cx="212.7" cy="324.2" r="2.2" fill="#8000ff"/>
<circle cx="224.4" cy="324.2" r="2.2" fill="#8000ff"/>
<circle cx="139.5" cy="357.5" r="2.2" fill="#4df3ce"/>
<circle cx="152.3" cy="357.5" r="2.2" fill="#2489f5"/>
<circle cx="154.2" cy="357.5" r="2.2" fill="#2489f5"/>
<circle cx="156.3" cy="357.5" r="2.2" fill="#2489f5"/>
<circle cx="148.2" cy="345.9" r="2.2" fill="#ff0000"/>
<circle cx="148.2" cy="347.8" r="2.2" fill="#57f7c9"/>
<circle cx="148.2" cy="350.2" r="2.2" fill="#ff0000"/>
<circle cx="149.6" cy="353.0" r="2.2" fill="#2489f5"/>
<circle cx="147.2" cy="352.6" r="2.2" fill="#3374f8"/>
<circle cx="147.4" cy="361.5" r="2.2" fill="#3374f8"/>
<circle cx="149.2" cy="361.0" r="2.2" fill="#1996f3"/>
<circle cx="145.2" cy="355.6" r="2.2" fill="#8000ff"/>
<circle cx="144.2" cy="358.3" r="2.2" fill="#8000ff"/>
<circle cx="145.6" cy="360.0" r="2.2" fill="#7510ff"/>
<circle cx="146.2" cy="357.8" r="2.2" fill="#7018ff"/>
<circle cx="148.7" cy="358.2" r="2.2" fill="#ff0000"/>
<circle cx="148.2" cy="364.2" r="2.2" fill="#24d7df"/>
<circle cx="148.2" cy="367.0" r="2.2" fill="#ff0000"/>
<circle cx="148.2" cy="369.6" r="2.2" fill="#ff0000"/>
<circle cx="148.8" cy="356.3" r="1.2" fill="#dbd77b"/>
<circle cx="123.7" cy="390.8" r="2.2" fill="#2489f5"/>
<circle cx="135.2" cy="390.8" r="2.2" fill="#2489f5"/>
<circle cx="137.8" cy="390.8" r="2.2" fill="#ff0000"/>
<circle cx="139.6" cy="390.8" r="2.2" fill="#ff0000"/>
<circle cx="141.4" cy="390.8" r="2.2" fill="#ff0000"/>
<circle cx="143.2" cy="390.8" r="2.2" fill="#ff0000"/>
<circle cx="145.0" cy="390.8" r="2.2" fill="#ff0000"/>
<circle cx="148.3" cy="379.4" r="2.2" fill="#42edd3"/>
<circle cx="148.3" cy="381.2" r="2.2" fill="#33e3d9"/>
<circle cx="148.3" cy="383.0" r="2.2" fill="#19cee3"/>
<circle cx="148.0" cy="384.8" r="2.2" fill="#0fa3f0"/>
<circle cx="148.6" cy="386.6" r="2.2" fill="#1996f3"/>
<circle cx="148.0" cy="388.4" r="2.2" fill="#0fc4e7"/>
<circle cx="148.6" cy="390.4" r="2.2" fill="#4c4ffc"/>
<circle cx="148.0" cy="392.4" r="2.2" fill="#1996f3"/>
<circle cx="148.6" cy="394.2" r="2.2" fill="#19cee3"/>
<circle cx="148.0" cy="396.0" r="2.2" fill="#4c4ffc"/>
<circle cx="148.4" cy="397.8" r="2.2" fill="#573ffd"/>
<circle cx="148.0" cy="399.6" r="2.2" fill="#4c4ffc"/>
<circle cx="148.4" cy="401.4" r="2.2" fill="#425efa"/>
<circle cx="148.3" cy="402.6" r="2.2" fill="#1996f3"/>
<circle cx="152.1" cy="390.8" r="2.2" fill="#7510ff"/>
<circle cx="157.0" cy="390.8" r="2.2" fill="#4df3ce"/>
<circle cx="159.7" cy="390.8" r="2.2" fill="#1996f3"/>
<circle cx="161.4" cy="390.8" r="2.2" fill="#1996f3"/>
<circle cx="163.0" cy="390.8" r="2.2" fill="#1996f3"/>
<circle cx="164.4" cy="390.8" r="2.2" fill="#1996f3"/>
</g>
<line x1="96" y1="181.5" x2="476.8" y2="181.5" stroke="#333" stroke-width="1.1"/>
<line x1="145.5" y1="181.5" x2="145.5" y2="184.5" stroke="#333" stroke-width="1"/>
<text x="145.5" y="196.7" font-family="Liberation Serif, serif" font-size="11.2" fill="#222" text-anchor="middle">0.0</text>
<line x1="223.7" y1="181.5" x2="223.7" y2="184.5" stroke="#333" stroke-width="1"/>
<text x="223.7" y="196.7" font-family="Liberation Serif, serif" font-size="11.2" fill="#222" text-anchor="middle">0.2</text>
<line x1="301.8" y1="181.5" x2="301.8" y2="184.5" stroke="#333" stroke-width="1"/>
<text x="301.8" y="196.7" font-family="Liberation Serif, serif" font-size="11.2" fill="#222" text-anchor="middle">0.4</text>
<line x1="380.0" y1="181.5" x2="380.0" y2="184.5" stroke="#333" stroke-width="1"/>
<text x="380.0" y="196.7" font-family="Liberation Serif, serif" font-size="11.2" fill="#222" text-anchor="middle">0.6</text>
<line x1="458.2" y1="181.5" x2="458.2" y2="184.5" stroke="#333" stroke-width="1"/>
<text x="458.2" y="196.7" font-family="Liberation Serif, serif" font-size="11.2" fill="#222" text-anchor="middle">0.8</text>
<text x="286.6" y="212.3" font-family="Liberation Serif, serif" font-size="13.2" fill="#222" text-anchor="middle">SHAP value</text>
<text x="8.3" y="24.0" font-family="Liberation Serif, serif" font-size="15.85" font-weight="bold" fill="#000" style="stroke-width:0.18px" textLength="123.0" lengthAdjust="spacingAndGlyphs">(b) RandomForest</text>
<text x="72.6" y="52.7" font-family="Liberation Serif, serif" font-size="13.3" fill="#000" text-anchor="end">PBA</text>
<text x="72.6" y="86.1" font-family="Liberation Serif, serif" font-size="13.3" fill="#000" text-anchor="end">D800</text>
<text x="72.6" y="119.6" font-family="Liberation Serif, serif" font-size="13.3" fill="#000" text-anchor="end">Bedrock Vs</text>
<text x="72.6" y="152.9" font-family="Liberation Serif, serif" font-size="13.3" fill="#000" text-anchor="end">FP</text>
<rect x="500" y="14.0" width="2.2" height="167" fill="url(#cb)"/>
<text x="506" y="19.3" font-family="Liberation Serif, serif" font-size="11.2" fill="#111">High</text>
<text x="506" y="185.6" font-family="Liberation Serif, serif" font-size="11.2" fill="#111">Low</text>
<text x="0" y="0" transform="translate(537.0 98.6) rotate(-90)" font-family="Liberation Serif, serif" font-size="12.5" fill="#111" text-anchor="middle">Feature value</text>
<line x1="96" y1="424.5" x2="476.8" y2="424.5" stroke="#333" stroke-width="1.1"/>
<line x1="148.0" y1="424.5" x2="148.0" y2="427.5" stroke="#333" stroke-width="1"/>
<text x="148.0" y="439.7" font-family="Liberation Serif, serif" font-size="11.2" fill="#222" text-anchor="middle">0.0</text>
<line x1="232.1" y1="424.5" x2="232.1" y2="427.5" stroke="#333" stroke-width="1"/>
<text x="232.1" y="439.7" font-family="Liberation Serif, serif" font-size="11.2" fill="#222" text-anchor="middle">0.2</text>
<line x1="316.3" y1="424.5" x2="316.3" y2="427.5" stroke="#333" stroke-width="1"/>
<text x="316.3" y="439.7" font-family="Liberation Serif, serif" font-size="11.2" fill="#222" text-anchor="middle">0.4</text>
<line x1="400.4" y1="424.5" x2="400.4" y2="427.5" stroke="#333" stroke-width="1"/>
<text x="400.4" y="439.7" font-family="Liberation Serif, serif" font-size="11.2" fill="#222" text-anchor="middle">0.6</text>
<text x="286.6" y="455.3" font-family="Liberation Serif, serif" font-size="13.2" fill="#222" text-anchor="middle">SHAP value</text>
<text x="9.6" y="265.8" font-family="Liberation Serif, serif" font-size="15.85" font-weight="bold" fill="#000" style="stroke-width:0.18px" textLength="109.3" lengthAdjust="spacingAndGlyphs">(c) DecisionTree</text>
<text x="72.6" y="295.7" font-family="Liberation Serif, serif" font-size="13.3" fill="#000" text-anchor="end">PBA</text>
<text x="72.6" y="329.1" font-family="Liberation Serif, serif" font-size="13.3" fill="#000" text-anchor="end">D800</text>
<text x="72.6" y="362.6" font-family="Liberation Serif, serif" font-size="13.3" fill="#000" text-anchor="end">Bedrock Vs</text>
<text x="72.6" y="395.9" font-family="Liberation Serif, serif" font-size="13.3" fill="#000" text-anchor="end">FP</text>
<rect x="500" y="257.0" width="2.2" height="167" fill="url(#cb)"/>
<text x="506" y="262.3" font-family="Liberation Serif, serif" font-size="11.2" fill="#111">High</text>
<text x="506" y="428.6" font-family="Liberation Serif, serif" font-size="11.2" fill="#111">Low</text>
<text x="0" y="0" transform="translate(537.0 341.6) rotate(-90)" font-family="Liberation Serif, serif" font-size="12.5" fill="#111" text-anchor="middle">Feature value</text>
</g></svg>
</body></html>
